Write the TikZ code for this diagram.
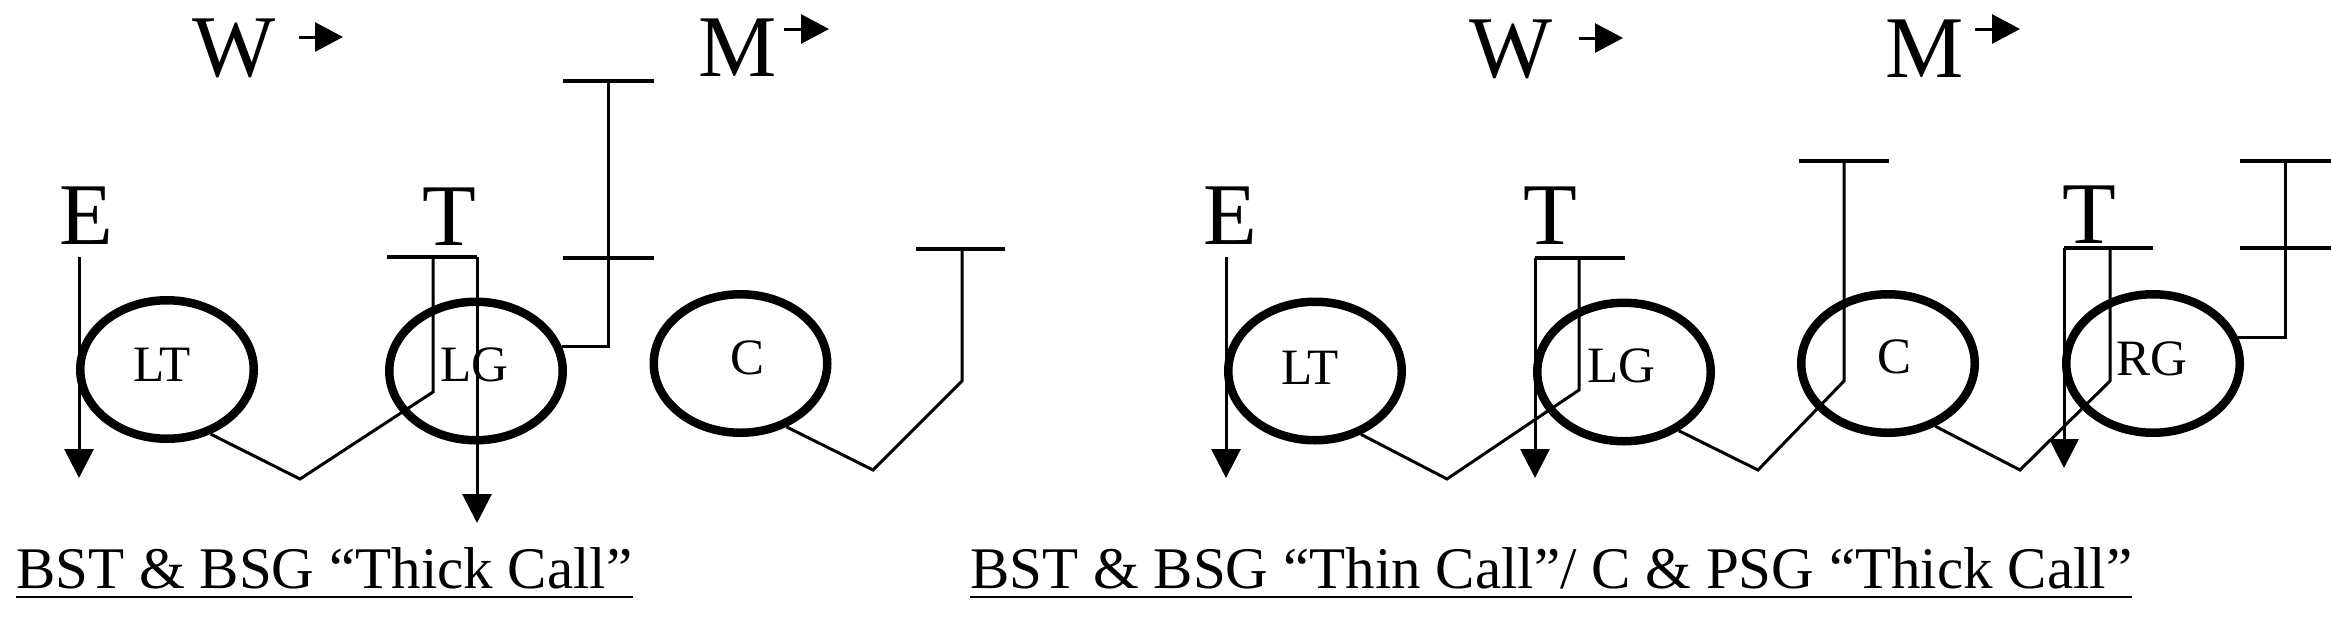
\documentclass[tikz,border=0pt]{standalone}
\usepackage{fontspec}
\setmainfont{Liberation Serif}
\usetikzlibrary{arrows.meta,shapes.geometric}
\begin{document}
\begin{tikzpicture}[x=1pt,y=-1pt,
  player/.style={ellipse,draw,line width=8.5pt,minimum width=173.5pt,minimum height=138.5pt,inner sep=0pt},
  bigletter/.style={inner sep=0pt,anchor=base,font=\fontsize{88}{88}\selectfont},
  poslabel/.style={inner sep=0pt,anchor=base,font=\fontsize{51}{51}\selectfont},
  captext/.style={inner sep=0pt,anchor=base west,font=\fontsize{59}{60}\selectfont},
  ln/.style={line width=3pt},
  barline/.style={line width=4pt},
  downarrow/.style={line width=3pt,-{Triangle[length=29pt,width=29pt]}},
  sidearrow/.style={line width=3pt,-{Triangle[length=28pt,width=29pt]}},
]
\useasboundingbox (0,0) rectangle (2331,616);

% ---------------- left diagram ----------------
\node[bigletter] (W1) at (234,76) {W};
\coordinate (W1s) at (299,37); \coordinate (W1e) at (343,37);
\draw[sidearrow] (W1s) -- (W1e);
\node[bigletter] (M1) at (738,76) {M};
\coordinate (M1s) at (784,29); \coordinate (M1e) at (829,29);
\draw[sidearrow] (M1s) -- (M1e);
\node[bigletter] (E1) at (86.5,244) {E};
\node[bigletter] (T1) at (449,245) {T};

\node[player] (LT1) at (167,369.5) {};
\node[poslabel] (LT1t) at (162,381) {LT};
\node[player] (LG1) at (476,371) {};
\node[poslabel] (LG1t) at (474.5,381) {LG};
\node[player] (C1) at (740.5,363.5) {};
\node[poslabel] (C1t) at (747,374) {C};

\coordinate (E1a) at (79,257); \coordinate (E1b) at (79,478);
\draw[downarrow] (E1a) -- (E1b);

\coordinate (k1v) at (300,479); \coordinate (k1t) at (433,392); \coordinate (k1b) at (433,257);
\coordinate (b1l) at (387,257); \coordinate (b1r) at (477,257); \coordinate (a1) at (477,523);
\draw[ln] (LT1.-56) -- (k1v) -- (k1t) -- (k1b);
\draw[barline] (b1l) -- (b1r);
\draw[downarrow] (b1r) -- (a1);

\coordinate (m1top) at (608,81);
\coordinate (mb1l) at (563,81); \coordinate (mb1r) at (654,81);
\coordinate (mb2l) at (563,258); \coordinate (mb2r) at (654,258);
\draw[ln] (LG1.16) -| (m1top);
\draw[barline] (mb1l) -- (mb1r);
\draw[barline] (mb2l) -- (mb2r);

\coordinate (k2v) at (873,470); \coordinate (k2t) at (962,381); \coordinate (k2b) at (962,249);
\coordinate (cb1l) at (916,249); \coordinate (cb1r) at (1005,249);
\draw[ln] (C1.-54) -- (k2v) -- (k2t) -- (k2b);
\draw[barline] (cb1l) -- (cb1r);

\node[captext] (cap1) at (16,588) {BST \& BSG “Thick Call”};
\draw[line width=2.5pt] ([yshift=-9pt]cap1.base west) -- ([yshift=-9pt]cap1.base east);

% ---------------- right diagram ----------------
\node[bigletter] (W2) at (1511.5,77) {W};
\coordinate (W2s) at (1579,38); \coordinate (W2e) at (1623,38);
\draw[sidearrow] (W2s) -- (W2e);
\node[bigletter] (M2) at (1924.5,77) {M};
\coordinate (M2s) at (1975,29); \coordinate (M2e) at (2020,29);
\draw[sidearrow] (M2s) -- (M2e);
\node[bigletter] (E2) at (1230.5,244) {E};
\node[bigletter] (T2) at (1550.5,244) {T};
\node[bigletter] (T3) at (2089.5,243) {T};

\node[player] (LT2) at (1315,371) {};
\node[poslabel] (LT2t) at (1310,384) {LT};
\node[player] (LG2) at (1624,372) {};
\node[poslabel] (LG2t) at (1621,382) {LG};
\node[player] (C2) at (1888,363.5) {};
\node[poslabel] (C2t) at (1894,373) {C};
\node[player] (RG2) at (2153,363.5) {};
\node[poslabel] (RG2t) at (2151.5,375) {RG};

\coordinate (E2a) at (1226,257); \coordinate (E2b) at (1226,478);
\draw[downarrow] (E2a) -- (E2b);

\coordinate (k3v) at (1447,479); \coordinate (k3t) at (1579,390); \coordinate (k3b) at (1579,258);
\coordinate (b3l) at (1535,258); \coordinate (b3r) at (1625,258); \coordinate (a3) at (1535,478);
\draw[ln] (LT2.-54) -- (k3v) -- (k3t) -- (k3b);
\draw[barline] (b3l) -- (b3r);
\draw[downarrow] (b3l) -- (a3);

\coordinate (k4v) at (1758,470); \coordinate (k4t) at (1844,381); \coordinate (k4b) at (1844,161);
\coordinate (b4l) at (1799,161); \coordinate (b4r) at (1889,161);
\draw[ln] (LG2.-47) -- (k4v) -- (k4t) -- (k4b);
\draw[barline] (b4l) -- (b4r);

\coordinate (k5v) at (2020,470); \coordinate (k5t) at (2110,381); \coordinate (k5b) at (2110,248);
\coordinate (b5l) at (2064,248); \coordinate (b5r) at (2153,248); \coordinate (a5) at (2064,468);
\draw[ln] (C2.-53) -- (k5v) -- (k5t) -- (k5b);
\draw[barline] (b5l) -- (b5r);
\draw[downarrow] (b5l) -- (a5);

\coordinate (r1top) at (2285,161);
\coordinate (rb1l) at (2240,161); \coordinate (rb1r) at (2331,161);
\coordinate (rb2l) at (2240,248); \coordinate (rb2r) at (2331,248);
\draw[ln] (RG2.17) -| (r1top);
\draw[barline] (rb1l) -- (rb1r);
\draw[barline] (rb2l) -- (rb2r);

\node[captext] (cap2) at (970,588) {BST \& BSG “Thin Call”/ C \& PSG “Thick Call”};
\draw[line width=2.5pt] ([yshift=-9pt]cap2.base west) -- ([yshift=-9pt]cap2.base east);
\end{tikzpicture}
\end{document}
